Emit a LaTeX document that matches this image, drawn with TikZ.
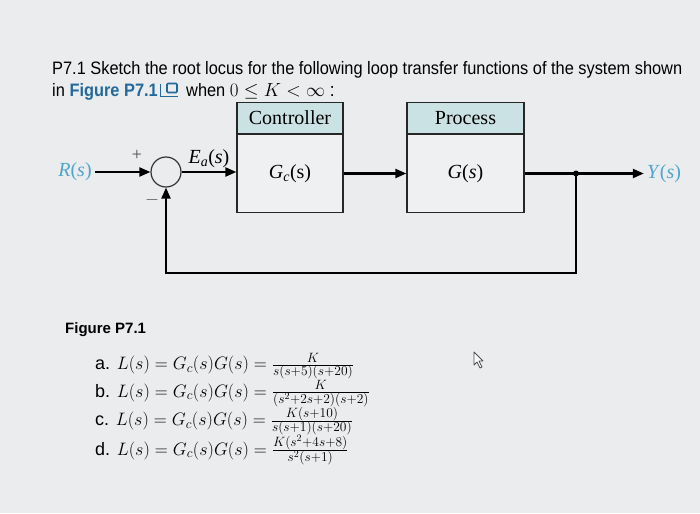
\RequirePackage{fix-cm}
\documentclass[tikz,border=0pt]{standalone}
\usepackage{fontspec}
\setmainfont{Liberation Serif}
\setsansfont{Liberation Sans}
\newfontfamily\titlefont[FakeStretch=0.91]{Liberation Sans}
\DeclareMathSizes{18}{18}{13.5}{10}
\usetikzlibrary{arrows.meta,positioning}
\definecolor{bgcol}{RGB}{234,236,237}
\definecolor{headcol}{RGB}{203,226,228}
\definecolor{bodycol}{RGB}{238,240,242}
\definecolor{sigcol}{RGB}{80,165,205}
\definecolor{figcol}{RGB}{35,105,155}
\begin{document}
\begin{tikzpicture}[x=1pt,y=-1pt,
        head/.style={draw=black!85,fill=headcol,line width=1.3pt,inner sep=0pt,minimum height=31pt,font=\fontsize{20}{20}\selectfont},
        block/.style={draw=black!85,fill=bodycol,line width=1.3pt,inner sep=0pt,minimum height=78pt,font=\fontsize{20}{20}\selectfont},
        sum/.style={draw=black!80,circle,line width=1.2pt,inner sep=0pt,minimum size=30pt},
        sig/.style={line width=2.2pt,-{Triangle[length=11pt,width=9pt]}},
        wire/.style={line width=2.2pt},
        lbl/.style={inner sep=3pt,font=\fontsize{20}{20}\selectfont},
        title/.style={anchor=base west,inner sep=0pt,font=\titlefont\fontsize{18}{18}\selectfont},
        eq/.style={anchor=base west,inner sep=0pt,font=\sffamily\fontsize{18}{20}\selectfont}
      ]
      \fill[bgcol] (0,0) rectangle (700,513);
      % problem text
      \node[title] (line1) at (52,75) {P7.1 Sketch the root locus for the following loop transfer functions of the system shown};
      \node[title] (line2) at (52,97) {in \textcolor{figcol}{\bfseries Figure P7.1}};
      \node[draw=figcol,line width=1.6pt,rounded corners=1pt,inner sep=0pt,minimum width=10pt,minimum height=9pt] (popup) at (172,88) {};
      \draw[figcol,line width=1.3pt] ([xshift=-6pt,yshift=-1pt]popup.north west) |- ([yshift=-3pt]popup.south east);
      \node[title,anchor=base west] (line2b) at (186,97) {when \fontsize{19}{19}\selectfont$0\leq K<\infty$ :};
      % block diagram
      \node[lbl,text=sigcol] (rin) at (75,172) {\textit{R}(\textit{s})};
      \node[sum] (sum) at (166,172) {};
      \node[block,minimum width=106pt] (gc) at (290,173.5) {\textit{G\textsubscript{c}}(s)};
      \node[head,minimum width=106pt,above=0pt of gc] (ctrl) {Controller};
      \node[block,minimum width=117pt] (gp) at (465.5,173.5) {\textit{G}(\textit{s})};
      \node[head,minimum width=117pt,above=0pt of gp] (proc) {Process};
      \node[lbl,text=sigcol] (yout) at (664,173.5) {\textit{Y}(\textit{s})};
      \coordinate (tap) at (576,173.5);
      \coordinate (fb) at (576,273);
      \draw[sig] (rin) -- (sum);
      \draw[sig] (sum.east) -- (sum.east -| gc.west) node[midway,above=0pt,lbl] (ea) {\textit{E\textsubscript{a}}(\textit{s})};
      \draw[sig] (gc.east) -- (gp.west);
      \draw[wire] (gp.east) -- (tap);
      \draw[sig] (tap) -- (yout);
      \draw[sig] (tap) -- (fb) -| (sum.south);
      \fill (tap) circle (3pt);
      \node[text=black!70,font=\fontsize{18}{18}\selectfont] (plus) at (137,155) {+};
      \node[text=black!70,font=\fontsize{18}{18}\selectfont] (minus) at (152,200) {$-$};
      % loop transfer functions
      \node[anchor=base west,inner sep=0pt,font=\sffamily\bfseries\fontsize{15}{15}\selectfont] (fig) at (65,333) {Figure P7.1};
      \node[eq] (eqa) at (95,369.5) {a. $L(s)=G_c(s)G(s)=\frac{K}{s(s+5)(s+20)}$};
      \node[eq] (eqb) at (95,397) {b. $L(s)=G_c(s)G(s)=\frac{K}{(s^2+2s+2)(s+2)}$};
      \node[eq] (eqc) at (95,425.5) {c. $L(s)=G_c(s)G(s)=\frac{K(s+10)}{s(s+1)(s+20)}$};
      \node[eq] (eqd) at (95,455) {d. $L(s)=G_c(s)G(s)=\frac{K(s^2+4s+8)}{s^2(s+1)}$};
      % mouse pointer
      \draw[black!70,fill=white,line width=0.8pt,line join=round] (474,352) -- (474,365) -- (477,362) -- (480,368) -- (482,367) -- (479,361) -- (483,361) -- cycle;
    \end{tikzpicture}
\end{document}
